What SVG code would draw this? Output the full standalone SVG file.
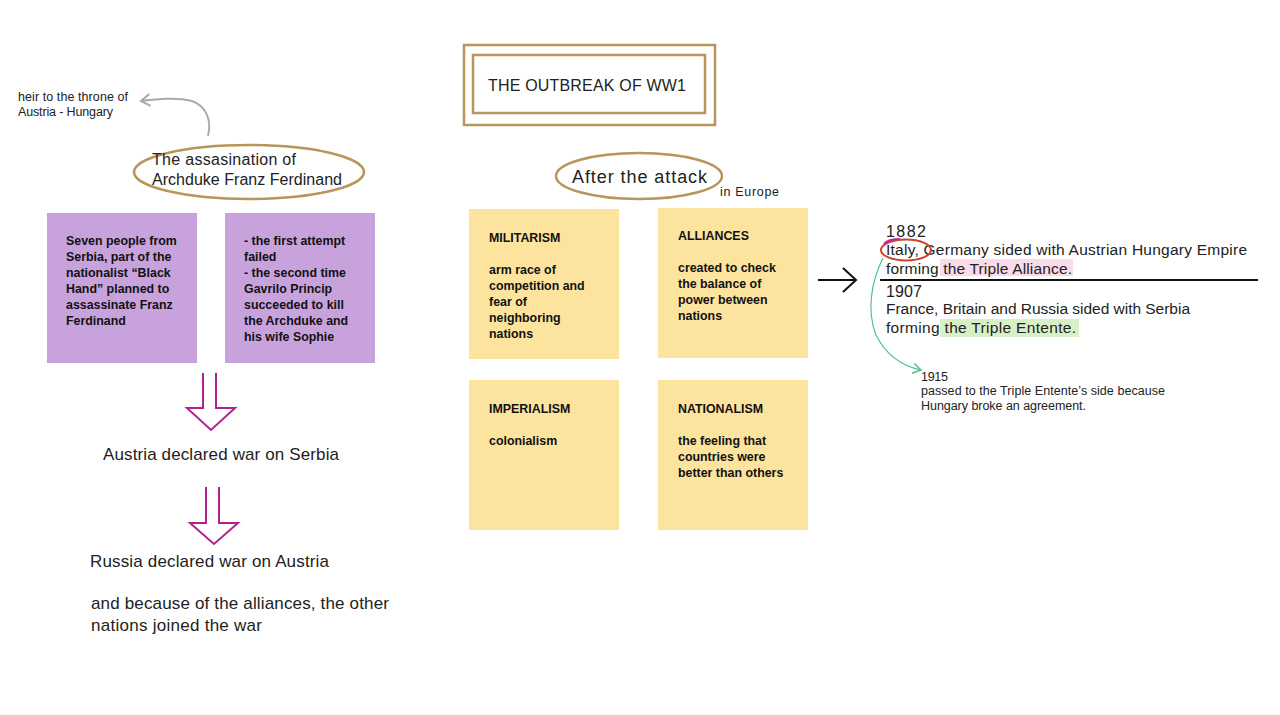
<svg xmlns="http://www.w3.org/2000/svg" width="1280" height="715" viewBox="0 0 1280 715">
<style>
.hand{font-family:"Liberation Sans",Arial,sans-serif;fill:#222}
.note{font-family:"Liberation Sans",Arial,sans-serif;fill:#222;font-size:12.5px}
.bold{font-family:"Liberation Sans",Arial,sans-serif;font-weight:bold;font-size:12.4px;fill:#111}
.gold{fill:none;stroke:#b8955a;stroke-width:2.5}
.purple{fill:#c8a2dc}
.yellow{fill:#fde49e}
.dbl{fill:none;stroke:#b3228c;stroke-width:2}
</style>
<defs>
<marker id="grayhead" markerWidth="14" markerHeight="14" refX="11" refY="7" orient="auto" markerUnits="userSpaceOnUse">
<path d="M2,1 L11,7 L2,13" fill="none" stroke="#aaa" stroke-width="2"/>
</marker>
<marker id="greenhead" markerWidth="12" markerHeight="12" refX="10" refY="6" orient="auto" markerUnits="userSpaceOnUse">
<path d="M2,1 L10,6 L2,11" fill="none" stroke="#4fc28a" stroke-width="1.5"/>
</marker>
</defs>
<rect width="1280" height="715" fill="#fff"/>

<g id="title">
<rect x="464" y="45" width="251" height="80" class="gold"/>
<rect x="473" y="55" width="232" height="58" class="gold"/>
<text x="488" y="91" class="hand" font-size="16" textLength="198">THE OUTBREAK OF WW1</text>
</g>

<g id="assassination">
<ellipse cx="249" cy="172" rx="115" ry="27" class="gold"/>
<text x="152" y="165" class="hand" font-size="16" textLength="144">The assasination of</text>
<text x="152" y="185" class="hand" font-size="16" textLength="190">Archduke Franz Ferdinand</text>
</g>

<g id="heir-note">
<text x="18" y="101" class="note" textLength="110">heir to the throne of</text>
<text x="18" y="116" class="note" textLength="95">Austria - Hungary</text>
</g>

<g id="box-seven">
<rect x="47" y="213" width="150" height="150" class="purple"/>
<text class="bold"><tspan x="66" y="245">Seven people from</tspan><tspan x="66" y="261">Serbia, part of the</tspan><tspan x="66" y="277">nationalist “Black</tspan><tspan x="66" y="293">Hand” planned to</tspan><tspan x="66" y="309">assassinate Franz</tspan><tspan x="66" y="325">Ferdinand</tspan></text>
</g>

<g id="box-attempt">
<rect x="225" y="213" width="150" height="150" class="purple"/>
<text class="bold"><tspan x="244" y="245">- the first attempt</tspan><tspan x="244" y="261">failed</tspan><tspan x="244" y="277">- the second time</tspan><tspan x="244" y="293">Gavrilo Princip</tspan><tspan x="244" y="309">succeeded to kill</tspan><tspan x="244" y="325">the Archduke and</tspan><tspan x="244" y="341">his wife Sophie</tspan></text>
</g>

<g id="austria-serbia">
<text x="103" y="460" class="hand" font-size="17" textLength="236">Austria declared war on Serbia</text>
</g>

<g id="russia-austria">
<text x="90" y="567" class="hand" font-size="17" textLength="239">Russia declared war on Austria</text>
<text x="91" y="609" class="hand" font-size="17" textLength="298">and because of the alliances, the other</text>
<text x="91" y="631" class="hand" font-size="17" textLength="171">nations joined the war</text>
</g>

<g id="after-attack">
<ellipse cx="639" cy="176" rx="83" ry="23" class="gold"/>
<text x="572" y="183" class="hand" font-size="18" textLength="135">After the attack</text>
<text x="720" y="196" class="note" textLength="59">in Europe</text>
</g>

<g id="militarism">
<rect x="469" y="209" width="150" height="150" class="yellow"/>
<text class="bold"><tspan x="489" y="242">MILITARISM</tspan><tspan x="489" y="274">arm race of</tspan><tspan x="489" y="290">competition and</tspan><tspan x="489" y="306">fear of</tspan><tspan x="489" y="322">neighboring</tspan><tspan x="489" y="338">nations</tspan></text>
</g>

<g id="alliances">
<rect x="658" y="208" width="150" height="150" class="yellow"/>
<text class="bold"><tspan x="678" y="240">ALLIANCES</tspan><tspan x="678" y="272">created to check</tspan><tspan x="678" y="288">the balance of</tspan><tspan x="678" y="304">power between</tspan><tspan x="678" y="320">nations</tspan></text>
</g>

<g id="imperialism">
<rect x="469" y="380" width="150" height="150" class="yellow"/>
<text class="bold"><tspan x="489" y="413">IMPERIALISM</tspan><tspan x="489" y="445">colonialism</tspan></text>
</g>

<g id="nationalism">
<rect x="658" y="380" width="150" height="150" class="yellow"/>
<text class="bold"><tspan x="678" y="413">NATIONALISM</tspan><tspan x="678" y="445">the feeling that</tspan><tspan x="678" y="461">countries were</tspan><tspan x="678" y="477">better than others</tspan></text>
</g>

<g id="alliances-detail">
<rect x="940" y="259" width="133" height="17" fill="#fadbea"/>
<rect x="940" y="319" width="139" height="18" fill="#d9efc6"/>
<text x="886" y="237" class="hand" font-size="16" textLength="40">1882</text>
<text x="886" y="255" class="hand" font-size="15.5" textLength="361">Italy, Germany sided with Austrian Hungary Empire</text>
<text x="886" y="274" class="hand" font-size="15.5" textLength="186">forming the Triple Alliance.</text>
<text x="886" y="297" class="hand" font-size="16" textLength="36">1907</text>
<text x="886" y="314" class="hand" font-size="15.5" textLength="304">France, Britain and Russia sided with Serbia</text>
<text x="886" y="333" class="hand" font-size="15.5" textLength="190">forming the Triple Entente.</text>
<ellipse cx="906" cy="250" rx="25" ry="10.5" fill="none" stroke="#d0412a" stroke-width="2"/>
<path d="M884,244 Q888,239 900,239" fill="none" stroke="#c2259b" stroke-width="2.2"/>
<line x1="880" y1="280" x2="1258" y2="280" stroke="#111" stroke-width="2"/>
</g>

<g id="italy-1915">
<text x="921" y="381" class="note" textLength="27">1915</text>
<text x="921" y="395" class="note" textLength="244">passed to the Triple Entente’s side because</text>
<text x="921" y="410" class="note" textLength="165">Hungary broke an agreement.</text>
</g>

<g id="connectors">
<path d="M208,136 C212,120 206,106 192,101 C176,97 158,99 141,101" fill="none" stroke="#aaa" stroke-width="2" marker-end="url(#grayhead)"/>
<path d="M203,373 V408 H187 L211,430 L235,408 H216 V373" class="dbl"/>
<path d="M206,487 V523 H190 L214,544 L238,523 H219 V487" class="dbl"/>
<path d="M818,280 H855 M843,268 L856,280 L843,292" fill="none" stroke="#111" stroke-width="2"/>
<path d="M883,258 C872,280 866,310 876,335 C886,355 902,366 921,370" fill="none" stroke="#4fc28a" stroke-width="1.2" marker-end="url(#greenhead)"/>
</g>
</svg>
